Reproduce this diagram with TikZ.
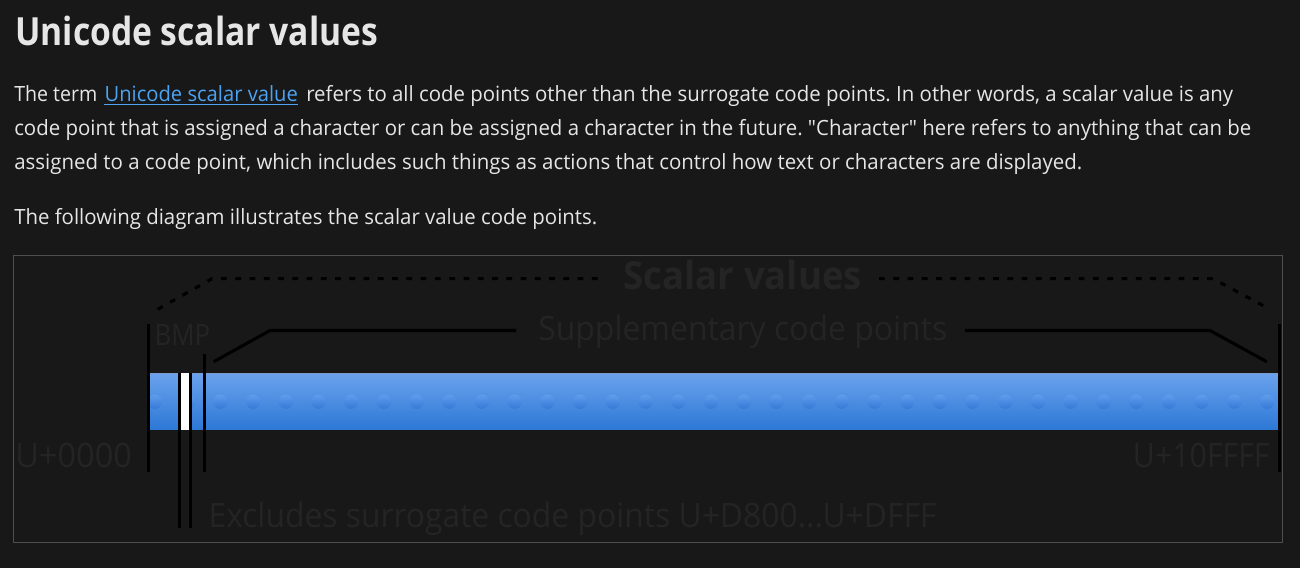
\documentclass[tikz,border=0pt]{standalone}
\usepackage{fontspec}
\usepackage{graphicx}
\setmainfont{Open Sans}
\frenchspacing

% one px of the screen shot
\newlength\pxlen
\setlength\pxlen{0.75pt}
\newcommand\fitpx[2]{\resizebox{#1\pxlen}{\height}{#2}}

\definecolor{pagebg}{HTML}{181818}
\definecolor{bodyc}{HTML}{E6E6E6}
\definecolor{linkc}{HTML}{4DA3F2}
\definecolor{framec}{HTML}{4E4E4E}
\definecolor{labelc}{HTML}{242424}
\definecolor{barTop}{HTML}{6BA2ED}
\definecolor{barBot}{HTML}{2C78D5}
\definecolor{barEdge}{HTML}{7A9CCB}
\definecolor{dotTop}{HTML}{609CEA}
\definecolor{dotBot}{HTML}{3479D8}

\tikzset{
  bodytxt/.style={anchor=base west, inner sep=0pt, text=bodyc, font=\fontsize{15.75pt}{19pt}\selectfont},
  labeltxt/.style={anchor=base west, inner sep=0pt, text=labelc, font=\fontsize{25.2pt}{30pt}\selectfont},
  tick/.style={black, line width=2.1pt},
  bracket/.style={black, line width=2.3pt},
  dotbracket/.style={black, line width=2.3pt, dash pattern=on 4.3pt off 6.4pt}
}

\begin{document}
\begin{tikzpicture}[x=0.75pt,y=0.75pt,yscale=-1,xscale=1]
  \useasboundingbox[fill=pagebg] (0,0) rectangle (1300,568);

  % heading and text
  \node[anchor=base west, inner sep=0pt, text=bodyc, font=\fontsize{29.1pt}{34pt}\selectfont\bfseries] (title) at (15,45) {\fitpx{363}{Unicode scalar values}};
  \node[bodytxt] (bodyA) at (14,101.7) {\fitpx{83}{The term}};
  \node[bodytxt, text=linkc] (link) at (104.3,101.7) {\fitpx{193.4}{Unicode scalar value}};
  \draw[linkc, line width=1.1pt] (link.base west) ++(0,2.6) coordinate (ulA) -- (ulA -| link.base east);
  \node[bodytxt] (bodyB) at (306,101.7) {\fitpx{927}{refers to all code points other than the surrogate code points. In other words, a scalar value is any}};
  \node[bodytxt] (bodyC) at (14,135.7) {\fitpx{1237}{code point that is assigned a character or can be assigned a character in the future. \textquotedbl Character\textquotedbl{} here refers to anything that can be}};
  \node[bodytxt] (bodyD) at (14,169.7) {\fitpx{1068}{assigned to a code point, which includes such things as actions that control how text or characters are displayed.}};
  \node[bodytxt] (bodyE) at (14,224) {\fitpx{583}{The following diagram illustrates the scalar value code points.}};

  % diagram frame
  \draw[framec, line width=0.75pt] (13.3,255.3) rectangle (1282.3,542.3);

  % the bar of code points
  \shade[top color=barTop, bottom color=barBot] (149.7,373.3) rectangle (1278.3,429.7);
  \draw[barEdge, line width=0.75pt] (149.7,373.6) -- (1278.3,373.6);
  \foreach \k in {0,...,34}
    \shade[top color=dotTop, bottom color=dotBot] ({154.9+32.71*\k},401.7) circle (7.2);
  \fill[white] (181,373.3) rectangle (189.3,429.7);

  % ticks
  \draw[tick] (148.3,324) -- (148.3,472);
  \draw[tick] (179.5,373.3) -- (179.5,528.3);
  \draw[tick] (190.7,373.3) -- (190.7,528.3);
  \draw[tick] (204.7,354) -- (204.7,472);
  \draw[tick] (1279.5,324) -- (1279.5,472);

  % labels
  \node[labeltxt, font=\fontsize{29.1pt}{34pt}\selectfont\bfseries] (scalar) at (623.3,289.5) {\fitpx{238.4}{Scalar values}};
  \node[labeltxt] (supp) at (538,340.7) {\fitpx{409}{Supplementary code points}};
  \node[labeltxt, font=\fontsize{22pt}{26pt}\selectfont] (bmp) at (154.3,345) {\fitpx{55.7}{BMP}};
  \node[labeltxt] (lo) at (15,467.3) {\fitpx{116.7}{U+0000}};
  \node[labeltxt] (hi) at (1132.7,467.3) {\fitpx{136.6}{U+10FFFF}};
  \node[labeltxt] (surr) at (208.3,527.3) {\fitpx{727.7}{Excludes surrogate code points U+D800...U+DFFF}};

  % brackets
  \coordinate (sA) at (213.7,361.7);
  \coordinate (sB) at (1266.7,361.7);
  \draw[bracket] (sA) -- (270,330.5) -- (516,330.5);
  \draw[bracket] (965,330.5) -- (1210,330.5) -- (sB);
  \coordinate (dA) at (157.7,309.3);
  \coordinate (dB) at (1270,309.3);
  \draw[dotbracket] (dA) -- (212,278.7) -- (605,278.7);
  \draw[dotbracket] (879,278.7) -- (1213,278.7) -- (dB);
\end{tikzpicture}
\end{document}
